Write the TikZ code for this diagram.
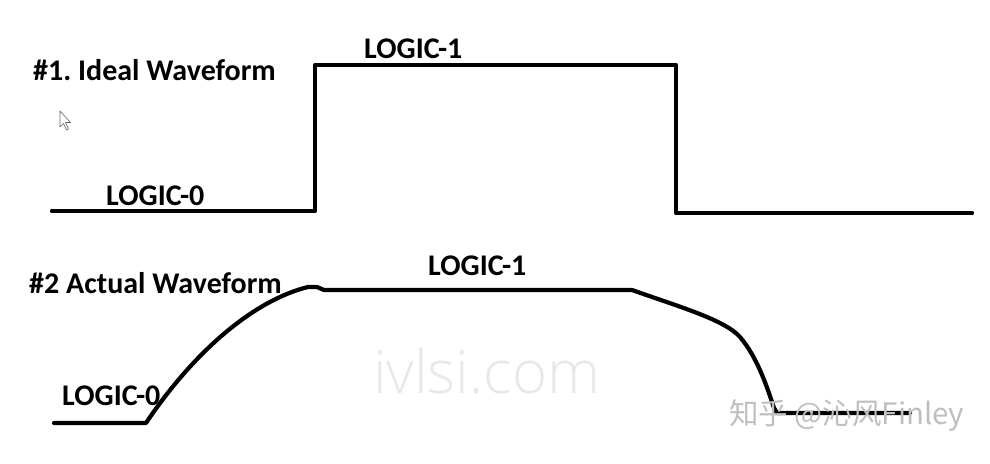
\documentclass[tikz,border=0pt]{standalone}
\usepackage{fontspec}
\setmainfont{Carlito}
\newfontfamily\wmfont{Open Sans Light}
\newfontfamily\cjkwm{Noto Sans CJK SC}
\frenchspacing
\begin{document}
\begin{tikzpicture}[x=1pt,y=-1pt,
  wave/.style={line width=4.2pt,line cap=round,line join=round},
  lbl/.style={font=\fontsize{30}{34}\selectfont\bfseries,anchor=base west,inner sep=0pt},
  wm/.style={text=black!9,anchor=base west,inner sep=0pt}]
\useasboundingbox[fill=white] (0,0) rectangle (990,463);
% ideal waveform
\draw[wave] (52,211) -- (315,211) -- (315,65) -- (676,65) -- (676,213) -- (972,213);
% actual waveform
\draw[wave] (54,423) -- (146,423) .. controls (195,350) and (255,300) .. (308,287)
  -- (317,287) -- (324,290) -- (632,290)
  .. controls (680,307) and (725,320) .. (740,337)
  .. controls (758,358) and (768,390) .. (774,408) -- (777,413) -- (910,413);
% labels
\node[lbl] (t1) at (33,80) {\#1. Ideal Waveform};
\node[lbl] (h1) at (364,58) {LOGIC-1};
\node[lbl] (l1) at (106,205) {LOGIC-0};
\node[lbl] (t2) at (29,293) {\#2 Actual Waveform};
\node[lbl] (h2) at (428,275) {LOGIC-1};
\node[lbl] (l2) at (62,405) {LOGIC-0};
% cursor
\draw[black!60,fill=white,line width=0.6pt,line join=round]
  (60,111) -- (60,127) -- (63.5,123.5) -- (66.5,130) -- (68.5,129) -- (65.5,122.5) -- (70.5,122.5) -- cycle;
% watermarks
\node[wm,font=\wmfont\fontsize{60}{66}\selectfont] (w1) at (373,393) {ivlsi.com};
\node[wm,font=\cjkwm\fontsize{29.5}{33}\selectfont,text=black!25] (w2) at (729,424) {知乎 @沁风Finley};
\end{tikzpicture}
\end{document}
